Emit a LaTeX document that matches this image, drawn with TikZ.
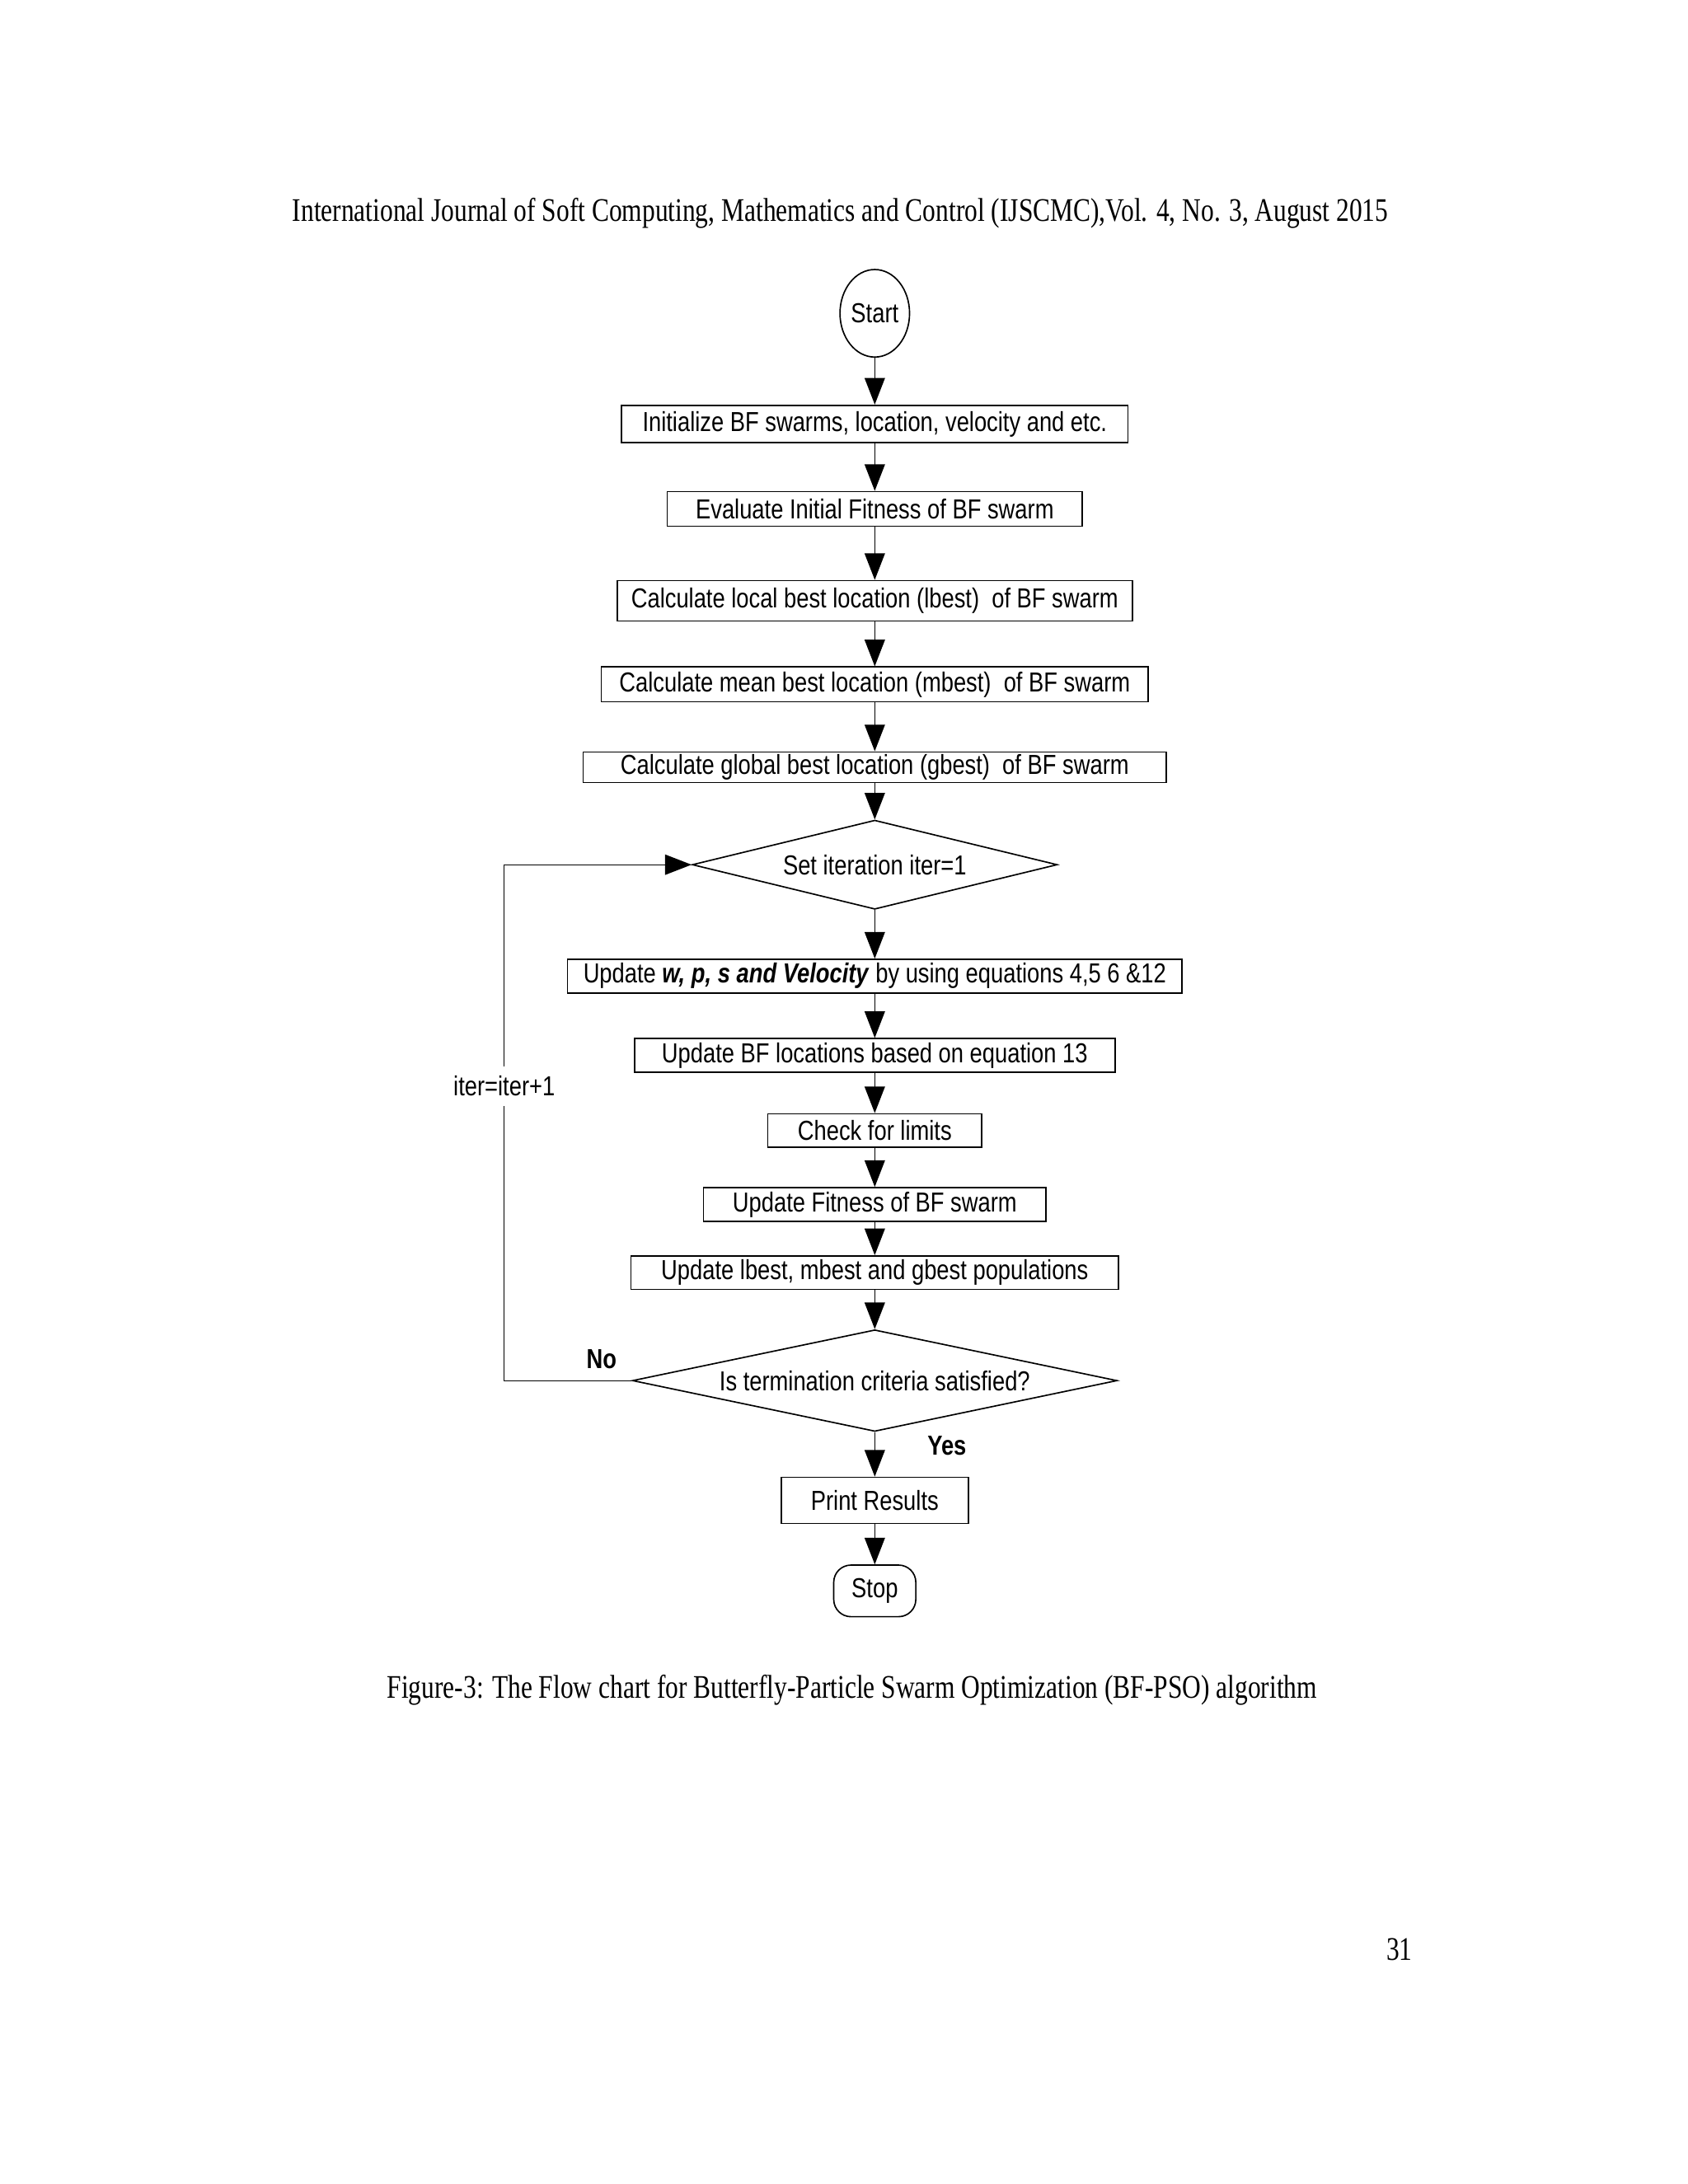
\documentclass[tikz,border=0pt]{standalone}
\usepackage{fontspec}
\setmainfont{Liberation Serif}[FakeStretch=0.786]
\newfontfamily\chartfont{Liberation Sans}[FakeStretch=0.82]
\usetikzlibrary{shapes.geometric,arrows.meta}

\begin{document}
\begin{tikzpicture}[
    font=\chartfont\fontsize{10}{12}\selectfont,
    box/.style={rectangle,draw,line width=0.5pt,inner sep=0pt,minimum height=0.43cm},
    decision/.style={diamond,draw,line width=0.5pt,inner sep=0pt},
    arr/.style={-{Triangle[length=3.4mm,width=2.6mm]},line width=0.4pt},
    lbl/.style={font=\chartfont\bfseries\fontsize{10}{12}\selectfont}
    ]
    \useasboundingbox (0,0) rectangle (21.59,-27.94);

    % Page header
    \node (header) at (10.75,-2.725) {\rmfamily\fontsize{12}{14}\selectfont International Journal of Soft Computing, Mathematics and Control (IJSCMC),Vol. 4, No. 3, August 2015};

    % Initialisation
    \node[ellipse,draw,line width=0.5pt,inner sep=0pt,minimum width=0.89cm,minimum height=1.12cm] (start) at (11.19,-4.008) {Start};
    \node[box,minimum width=6.48cm,minimum height=0.48cm] (init) at (11.19,-5.424) {Initialize BF swarms, location, velocity and etc.};
    \node[box,minimum width=5.31cm,minimum height=0.445cm] (evalfit) at (11.19,-6.511) {Evaluate Initial Fitness of BF swarm};
    \node[box,minimum width=6.59cm,minimum height=0.517cm] (lbest) at (11.19,-7.686) {Calculate local best location (lbest)~ of BF swarm};
    \node[box,minimum width=7.0cm,minimum height=0.445cm] (mbest) at (11.19,-8.755) {Calculate mean best location (mbest)~ of BF swarm};
    \node[box,minimum width=7.46cm,minimum height=0.392cm] (gbest) at (11.19,-9.815) {Calculate global best location (gbest)~ of BF swarm};

    % Iteration loop
    \node[decision,aspect=4.1,minimum width=4.67cm,minimum height=1.14cm] (setiter) at (11.19,-11.062) {Set iteration iter=1};
    \node[box,minimum width=7.86cm] (updvel) at (11.19,-12.487) {Update \textbf{\textit{w, p, s and Velocity}} by using equations 4,5 6 \&12};
    \node[box,minimum width=6.15cm] (updloc) at (11.19,-13.502) {Update BF locations based on equation 13};
    \node[box,minimum width=2.74cm] (chklim) at (11.19,-14.464) {Check for limits};
    \node[box,minimum width=4.38cm] (updfit) at (11.19,-15.408) {Update Fitness of BF swarm};
    \node[box,minimum width=6.24cm] (updpop) at (11.19,-16.281) {Update lbest, mbest and gbest populations};
    \node[decision,aspect=4.77,minimum width=6.2cm,minimum height=1.3cm] (term) at (11.19,-17.662) {Is termination criteria satisfied?};

    % End
    \node[box,minimum width=2.39cm,minimum height=0.59cm] (result) at (11.19,-19.194) {Print Results};
    \node[rectangle,rounded corners=0.22cm,draw,line width=0.5pt,inner sep=0pt,minimum width=1.05cm,minimum height=0.66cm] (stop) at (11.19,-20.352) {Stop};

    % Labels
    \node (iterlbl) at (6.45,-13.894) {iter=iter+1};
    \node[lbl] (nolbl) at (7.695,-17.386) {No};
    \node[lbl] (yeslbl) at (12.113,-18.49) {Yes};

    % Connectors
    \draw[arr] (start) -- (init);
    \draw[arr] (init) -- (evalfit);
    \draw[arr] (evalfit) -- (lbest);
    \draw[arr] (lbest) -- (mbest);
    \draw[arr] (mbest) -- (gbest);
    \draw[arr] (gbest) -- (setiter);
    \draw[arr] (setiter) -- (updvel);
    \draw[arr] (updvel) -- (updloc);
    \draw[arr] (updloc) -- (chklim);
    \draw[arr] (chklim) -- (updfit);
    \draw[arr] (updfit) -- (updpop);
    \draw[arr] (updpop) -- (term);
    \draw[arr] (term) -- (result);
    \draw[arr] (result) -- (stop);
    \draw[line width=0.4pt] (term.west) -| (iterlbl.south);
    \draw[arr] (iterlbl.north) |- (setiter.west);

    % Caption and page number
    \node (caption) at (10.90,-21.625) {\rmfamily\fontsize{12}{14}\selectfont Figure-3: The Flow chart for Butterfly-Particle Swarm Optimization (BF-PSO) algorithm};
    \node (pagenum) at (17.90,-24.94) {\rmfamily\fontsize{12}{14}\selectfont 31};
\end{tikzpicture}
\end{document}
